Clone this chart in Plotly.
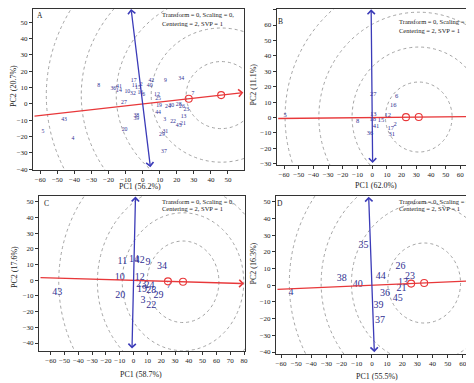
import plotly.graph_objects as go

W, H = 474, 383

# ---------------- data ----------------
# Panel A : all 46 cultivars
A_labels = ["17","42","40","9","34","8","36","41","14","11","15","2","10","32","16","6","12","25","7","27",
            "19","24","30","28","26","23","44","38","39","13","3","22","45","21","43","5","4","20","29","31","37"]
A_x = [-5.3,5.1,4.1,13.3,22.6,-25.8,-17.2,-13.9,-13.9,-4.7,-2.8,-0.8,-9.0,-5.7,-1.4,0.6,8.4,9.0,29.5,-11.0,
       9.6,14.8,16.8,21.1,23.0,25.6,9.0,-3.7,-3.7,24.0,12.9,17.8,21.1,23.6,-46.1,-58.4,-40.9,-10.6,11.3,13.3,12.5]
A_y = [14.3,14.3,11.3,14.3,15.5,10.9,9.6,10.7,8.0,11.5,9.9,11.9,7.8,6.2,7.0,5.8,5.4,3.4,6.2,1.1,
       -1.3,-1.7,-1.1,-0.5,-1.5,-3.7,-5.4,-7.4,-8.8,-8.0,-9.8,-10.8,-13.5,-12.0,-9.4,-16.7,-21.0,-15.5,-18.5,-16.9,-29.1]
A_slope = 0.117
A_markers = [27.0, 46.0]
A_rings = [20.5, 41.0, 61.5, 82.0, 102.5]

# Panel B : early
B_labels = ["5","8","27","6","16","13","18","41","36","12","15","17","2","31"]
B_x = [-59.3,-9.9,0.8,16.7,14.4,0.8,0.4,2.6,-1.5,10.6,6.0,12.6,15.6,13.3]
B_y = [1.4,-2.5,14.8,13.7,7.7,1.8,-1.0,-5.8,-10.1,1.4,-2.1,-7.3,-4.7,-10.7]
B_slope = 0.01
B_markers = [23.0, 31.7]
B_rings = [22.7, 45.4, 68.0, 91.0]

# Panel C : medium
C_labels = ["43","11","14","42","9","34","10","12","20","23","24","19","28","29","3","22","7"]
C_x = [-55.2,-8.1,0.3,4.4,10.4,20.6,-10.1,4.4,-9.6,5.6,11.6,6.1,12.8,18.1,6.8,12.8,25.6]
C_y = [-7.7,11.7,13.0,12.8,11.1,8.5,2.1,2.1,-9.6,-2.8,-3.4,-6.0,-6.8,-9.6,-12.8,-16.2,-3.2]
C_slope = -0.026
C_markers = [24.9, 35.8]
C_rings = [26.0, 44.0, 62.0, 90.0]

# Panel D : late
D_labels = ["4","38","40","35","44","36","39","37","26","23","13","21","45"]
D_x = [-53.4,-19.9,-9.3,-5.6,5.9,8.7,4.3,5.4,18.9,25.2,20.6,19.5,17.1]
D_y = [-4.2,4.0,0.4,24.0,5.0,-5.0,-12.0,-21.2,11.0,5.0,1.4,-2.2,-8.0]
D_slope = 0.04
D_markers = [25.9, 34.5]
D_rings = [24.0, 48.0, 68.0, 89.0]

pc1_titles = ["PC1 (56.2%)", "PC1 (62.0%)", "PC1 (58.7%)", "PC1 (55.5%)"]
pc2_titles = ["PC2 (20.7%)", "PC2 (11.1%)", "PC2 (17.6%)", "PC2 (16.3%)"]
panel_letters = ["A", "B", "C", "D"]
x_ticks = [list(range(-60, 51, 10)), list(range(-60, 71, 10)), list(range(-60, 81, 10)), list(range(-60, 61, 10))]
y_ticks = [list(range(-40, 51, 10)), list(range(-30, 71, 10)), list(range(-40, 51, 10)), list(range(-40, 51, 10))]
settings_text = ["Transform = 0, Scaling = 0,", "Centering = 2, SVP = 1"]
caption = "<b>Figure 2.</b> Ideal genotypes of the set of 46 soybean cultivars (A), and for the cultivar divisions in early (B), medium (C) and"

# ---------------- layout geometry (pixels) ----------------
def fx(px):
    return px / W

def fy(py):
    return 1 - py / H

panels = [
    dict(lab=A_labels, x=A_x, y=A_y, slope=A_slope, mk=A_markers, rings=A_rings, fs=5.8,
         dom=(25, 236, 1, 162), xr=(-64.3, 59.4), yr=(-40.4, 58.0),
         xt=(132, 178), yt=(5, 78), letter=(32, 8), sett=(152, 7, 16), red_end=59.0, blue=(58.0, -39.6)),
    dict(lab=B_labels, x=B_x, y=B_y, slope=B_slope, mk=B_markers, rings=B_rings, fs=6.5,
         dom=(268.7, 471, 1, 157), xr=(-65.0, 72.7), yr=(-30.8, 70.4),
         xt=(368, 177), yt=(244.5, 77), letter=(272, 13), sett=(389, 14, 23), red_end=71.5, blue=(70.2, -30.5)),
    dict(lab=C_labels, x=C_x, y=C_y, slope=C_slope, mk=C_markers, rings=C_rings, fs=10,
         dom=(31, 237, 188.3, 342.7), xr=(-68.5, 80.7), yr=(-44.9, 53.6),
         xt=(133, 366), yt=(6, 259), letter=(38, 195), sett=(152, 193.5, 200.5), red_end=80.0, blue=(53.4, -44.5)),
    dict(lab=D_labels, x=D_x, y=D_y, slope=D_slope, mk=D_markers, rings=D_rings, fs=10,
         dom=(268, 473, 188.3, 346), xr=(-63.3, 72.0), yr=(-41.2, 53.4),
         xt=(369, 368.5), yt=(244.5, 256), letter=(272, 195), sett=(389, 193.5, 200.5), red_end=71.0, blue=(53.2, -41.0)),
]

SERIF = "Liberation Serif"
BLUE_TXT = "#2f2f92"
BLUE_LN = "#3b3bb8"
RED = "#e8383a"
RING = "#9a9a9a"
FRAME = "#333333"

fig = go.Figure()
layout = dict(width=W, height=H, margin=dict(l=0, r=0, t=0, b=0),
              paper_bgcolor="white", plot_bgcolor="white", showlegend=False)
shapes = []
annotations = []

for i, p in enumerate(panels):
    n = "" if i == 0 else str(i + 1)
    xa, ya = "x" + n, "y" + n
    x0, x1, y0, y1 = p["dom"]
    layout["xaxis" + n] = dict(domain=[fx(x0), fx(x1)], range=list(p["xr"]), anchor=ya,
                               tickvals=x_ticks[i], ticks="outside", ticklen=3, tickwidth=1,
                               tickcolor=FRAME, showline=True, linecolor=FRAME, linewidth=1, mirror=True,
                               showgrid=False, zeroline=False, automargin=False,
                               tickfont=dict(family=SERIF, size=7, color="#222"))
    layout["yaxis" + n] = dict(domain=[fy(y1), fy(y0)], range=list(p["yr"]), anchor=xa,
                               tickvals=y_ticks[i], ticks="outside", ticklen=3, tickwidth=1,
                               tickcolor=FRAME, showline=True, linecolor=FRAME, linewidth=1, mirror=True,
                               showgrid=False, zeroline=False, automargin=False,
                               tickfont=dict(family=SERIF, size=7, color="#222"))

    # concentric rings around the ideal genotype
    cx = p["mk"][-1]
    cy = p["slope"] * cx
    for r in p["rings"]:
        shapes.append(dict(type="circle", xref=xa, yref=ya, x0=cx - r, x1=cx + r, y0=cy - r, y1=cy + r,
                           line=dict(color=RING, width=0.9, dash="dot"), layer="below"))

    # average environment axis (red arrow)
    xl = p["xr"][0]
    xe = p["red_end"]
    annotations.append(dict(xref=xa, yref=ya, axref=xa, ayref=ya, x=xe, y=p["slope"] * xe,
                            ax=xl, ay=p["slope"] * xl, showarrow=True, arrowhead=4, arrowsize=1.1,
                            arrowwidth=1.3, arrowcolor=RED, text=""))
    # perpendicular axis (blue, double arrow)
    yt_, yb_ = p["blue"]
    annotations.append(dict(xref=xa, yref=ya, axref=xa, ayref=ya, x=-p["slope"] * yt_, y=yt_,
                            ax=-p["slope"] * yb_, ay=yb_, showarrow=True, arrowhead=4, startarrowhead=4,
                            arrowside="end+start", arrowsize=1.1, startarrowsize=1.1,
                            arrowwidth=1.3, arrowcolor=BLUE_LN, text=""))

    # genotype labels
    fig.add_trace(go.Scatter(x=p["x"], y=p["y"], text=p["lab"], mode="text", xaxis=xa, yaxis=ya,
                             textfont=dict(family=SERIF, size=p["fs"], color=BLUE_TXT), hoverinfo="text"))
    # markers on AEA
    fig.add_trace(go.Scatter(x=p["mk"], y=[p["slope"] * v for v in p["mk"]], mode="markers",
                             xaxis=xa, yaxis=ya,
                             marker=dict(symbol="circle-open", size=7, color=RED, line=dict(width=1.1, color=RED))))

    # titles and texts
    annotations.append(dict(xref="paper", yref="paper", x=fx(p["xt"][0]), y=fy(p["xt"][1]), text=pc1_titles[i],
                            showarrow=False, font=dict(family=SERIF, size=8, color="#222"),
                            xanchor="center", yanchor="middle"))
    annotations.append(dict(xref="paper", yref="paper", x=fx(p["yt"][0]), y=fy(p["yt"][1]), text=pc2_titles[i],
                            showarrow=False, textangle=-90, font=dict(family=SERIF, size=8, color="#222"),
                            xanchor="center", yanchor="middle"))
    annotations.append(dict(xref="paper", yref="paper", x=fx(p["letter"][0]), y=fy(p["letter"][1]),
                            text=panel_letters[i], showarrow=False,
                            font=dict(family=SERIF, size=7.5, color="#222"), xanchor="center", yanchor="middle"))
    sx, sy1, sy2 = p["sett"]
    for t, sy in zip(settings_text, (sy1, sy2)):
        annotations.append(dict(xref="paper", yref="paper", x=fx(sx), y=fy(sy), text=t, showarrow=False,
                                font=dict(family=SERIF, size=6.5, color="#222"), xanchor="left", yanchor="middle"))

annotations.append(dict(xref="paper", yref="paper", x=fx(-1), y=fy(374.5), text=caption, showarrow=False,
                        font=dict(family=SERIF, size=9.5, color="#111"), xanchor="left", yanchor="top"))

layout["shapes"] = shapes
layout["annotations"] = annotations
fig.update_layout(**layout)
fig.write_html("out.html")
